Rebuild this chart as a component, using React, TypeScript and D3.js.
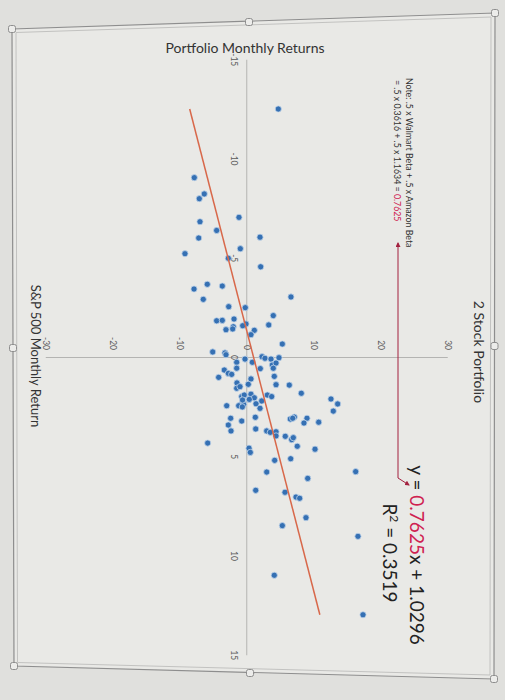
import React from "react";
import * as d3 from "d3";

// ---- data (S&P 500 monthly return %, portfolio monthly return %) ----
const sp500Returns = [
  -12.52, -9.06, -8.24, -8.0, -7.06, -6.84, -6.4, -6.02, -6.06, -5.23,
  -5.48, -5.0, -4.57, -3.45, -3.69, -3.6, -2.93, -3.05, -2.56, -2.51,
  -2.11, -1.85, -1.87, -1.94, -1.69, -1.6, -1.64, -1.55, -1.44, -1.4,
  -1.37, -1.15, -0.68, -0.28, -0.23, -0.14, 0.08, -0.04, 0.04, 0.08,
  0.01, 0.24, 0.24, 0.38, 0.28, 0.54, 0.56, 0.63, 0.8, 0.85,
  0.54, 1.0, 0.95, 1.08, 1.28, 1.35, 1.37, 1.39, 1.55, 1.47,
  1.8, 1.85, 1.97, 1.89, 1.89, 1.97, 2.09, 2.03, 2.11, 2.19,
  2.34, 2.39, 2.36, 2.43, 2.49, 2.33, 2.43, 2.56, 2.7, 3.01,
  3.06, 3.1, 3.0, 3.06, 3.06, 3.3, 3.26, 3.2, 3.4, 3.7,
  3.6, 3.7, 3.77, 3.74, 3.95, 3.97, 4.14, 4.04, 4.31, 4.47,
  4.57, 4.78, 4.62, 5.1, 5.18, 5.77, 5.75, 6.09, 6.69, 6.79,
  7.03, 7.09, 8.07, 8.47, 9.01, 10.97, 12.96, 2.14,
];
const portfolioReturns = [
  4.71, -7.83, -6.34, -7.08, -1.16, -6.98, -4.49, -7.17, 1.98, -9.22,
  -0.96, -2.75, 2.08, -7.87, -5.89, -3.65, -6.49, 6.6, -2.69, -0.22,
  3.96, -4.49, -3.65, -1.9, -0.11, -0.6, 3.28, -2.01, -2.1, -3.1,
  1.13, 0.63, 5.31, -5.08, -3.25, -3.1, -0.26, 2.28, 2.72, 3.62,
  4.81, -1.5, 0.83, 3.81, 4.37, -1.5, 2.02, -3.35, -2.75, -2.25,
  3.96, -4.19, 4.11, 0.63, -1.46, 0.23, 4.37, 6.35, -1.5, -1.01,
  8.14, 0.63, -0.75, -0.37, 3.07, 3.72, 12.57, 1.13, 0.38, 2.23,
  13.57, -0.96, -0.46, -1.2, -0.66, 1.38, -2.99, 1.98, 12.92, 1.28,
  -2.4, 6.5, 7.1, 6.86, 8.99, 8.54, 10.74, -0.75, -2.75, -2.35,
  1.34, 2.98, 3.51, 4.37, 4.37, 5.75, 6.71, 6.95, -5.83, 7.54,
  0.34, 0.53, 10.19, 6.56, 4.17, 2.98, 16.26, 9.1, 1.34, 5.71,
  7.35, 7.9, 8.84, 5.31, 16.6, 4.11, 17.35, -0.63,
];
const xTicks = [-15, -10, -5, 0, 5, 10, 15];
const yTicks = [-30, -20, -10, 0, 10, 20, 30];
const xTickLabels = ["-15", "-10", "-5", "0", "5", "10", "15"];
const yTickLabels = ["-30", "-20", "-10", "0", "10", "20", "30"];
const trendSlope = 0.7625;
const trendIntercept = 1.0296;
const rSquared = 0.3519;

const chartTitle = "2 Stock Portfolio";
const xTitle = "S&P 500 Monthly Return";
const yTitle = "Portfolio Monthly Returns";
const noteLine1 = "Note: .5 x Walmart Beta + .5 x Amazon Beta";
const noteLine2 = "= .5 x 0.3616 + .5 x 1.1634 = ";

const W = 505;
const H = 700;
const FONT = "Lato, 'Open Sans', sans-serif";

export default function App() {
  // chart drawn in its own (unrotated) frame: u = horizontal (700), v = vertical (505)
  const x = d3.scaleLinear().domain([-15, 15]).range([59.75, 655.25]);
  const y = d3.scaleLinear().domain([-30, 30]).range([459.25, 57.25]);

  const points = sp500Returns.map((v, i) => ({ sx: v, py: portfolioReturns[i] }));
  const [xmin, xmax] = d3.extent(sp500Returns) as [number, number];
  const trend = d3
    .line<number>()
    .x((d) => x(d))
    .y((d) => y(trendSlope * d + trendIntercept));

  const frame = "M12,29 L495,13 L494,679 L14,666 Z";
  const frameInner = "M16,32.5 L491,17 L490,675 L17.5,662.5 Z";
  const handles: [number, number][] = [
    [12, 29], [495, 13], [494, 679], [14, 666],
    [249, 22], [250, 673], [13, 348], [494.5, 346],
  ];

  const tickColor = "#5a5a5a";
  const crimson = "#cf2150";
  const arrowColor = "#a3213f";

  return (
    <svg
      width={W}
      height={H}
      viewBox={`0 0 ${W} ${H}`}
      style={{ position: "absolute", left: 0, top: 0, display: "block" }}
    >
      <defs>
        <marker
          id="ah"
          viewBox="0 0 10 10"
          refX="8"
          refY="5"
          markerWidth="5"
          markerHeight="5"
          orient="auto-start-reverse"
        >
          <path d="M0,0 L10,5 L0,10 Z" fill={arrowColor} />
        </marker>
      </defs>
      <rect x={0} y={0} width={W} height={H} fill="#e0e0dd" />
      <path d={frame} fill="#e9e9e6" stroke="#8e8e8e" strokeWidth={1.2} />
      <path d={frameInner} fill="none" stroke="#c2c2c0" strokeWidth={1} />
      {handles.map(([hx, hy], i) => (
        <rect
          key={i}
          x={hx - 3.5}
          y={hy - 3.5}
          width={7}
          height={7}
          rx={2}
          fill="#ececea"
          stroke="#8e8e8e"
          strokeWidth={1}
        />
      ))}

      <g transform={`translate(${W},0) rotate(90)`} fontFamily={FONT}>
        {/* axes */}
        <line x1={x(-15)} x2={x(15)} y1={y(0)} y2={y(0)} stroke="#b4b4b2" strokeWidth={1} />
        <line x1={x(0)} x2={x(0)} y1={y(-30)} y2={y(30)} stroke="#b4b4b2" strokeWidth={1} />

        {xTicks.map((t, i) => (
          <text
            key={"xt" + i}
            x={x(t)}
            y={y(0) + 13}
            dy="0.35em"
            textAnchor="middle"
            fontSize={8.5}
            fill={tickColor}
          >
            {xTickLabels[i]}
          </text>
        ))}
        {yTicks.map((t, i) => (
          <text
            key={"yt" + i}
            x={x(0) - 7.5}
            y={y(t)}
            dy="0.35em"
            textAnchor="end"
            fontSize={8.5}
            fill={tickColor}
          >
            {yTickLabels[i]}
          </text>
        ))}

        {/* points */}
        {points.map((p, i) => (
          <circle
            key={"p" + i}
            cx={x(p.sx)}
            cy={y(p.py)}
            r={3.1}
            fill="#3570b3"
            stroke="#c3d6ea"
            strokeWidth={0.8}
          />
        ))}

        {/* trendline */}
        <path d={trend([xmin, xmax]) || ""} fill="none" stroke="#d8684a" strokeWidth={1.5} />

        {/* titles */}
        <text x={352} y={31} textAnchor="middle" fontSize={14} fill="#333">
          {chartTitle}
        </text>
        <text x={356} y={474} textAnchor="middle" fontSize={13} fill="#333">
          {xTitle}
        </text>
        <text
          transform={`translate(53,260) rotate(-90)`}
          textAnchor="middle"
          fontSize={14}
          fill="#333"
        >
          {yTitle}
        </text>

        {/* note */}
        <text x={78} y={99} fontSize={8.8} fill="#333">
          {noteLine1}
        </text>
        <text x={80} y={111} fontSize={8.8} fill="#333">
          {noteLine2}
          <tspan fill={crimson}>{trendSlope.toFixed(4)}</tspan>
        </text>
        <path
          d="M243,107 L478,107 L485,96"
          fill="none"
          stroke={arrowColor}
          strokeWidth={1}
          markerStart="url(#ah)"
          markerEnd="url(#ah)"
        />

        {/* regression equation */}
        <text x={555} y={95} textAnchor="middle" fontSize={19} fill="#222">
          {"y = "}
          <tspan fill={crimson}>{trendSlope.toFixed(4)}</tspan>
          {"x + " + trendIntercept.toFixed(4)}
        </text>
        <text x={553} y={122} textAnchor="middle" fontSize={19} fill="#222">
          {"R"}
          <tspan fontSize={12} dy={-7}>
            2
          </tspan>
          <tspan dy={7}>{" = " + rSquared.toFixed(4)}</tspan>
        </text>
      </g>
    </svg>
  );
}
